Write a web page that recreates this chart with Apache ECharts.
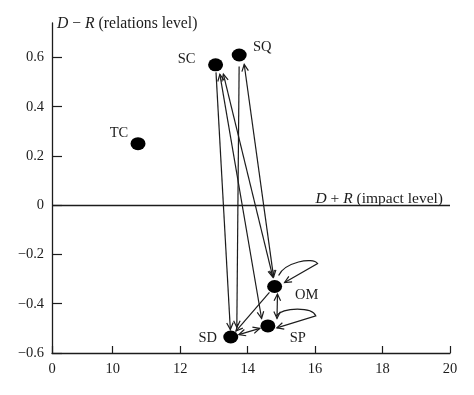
<!DOCTYPE html>
<html><head><meta charset="utf-8">
<script src="https://cdn.jsdelivr.net/npm/echarts@6/dist/echarts.min.js"></script>
<style>html,body{margin:0;padding:0;background:#fff}#c{width:474px;height:395px}</style>
</head><body><div id="c"></div>
<script>
// ---- data ----
const factors = ['SC', 'SQ', 'TC', 'OM', 'SP', 'SD'];
const impactLevel = [13.05, 13.75, 10.75, 14.8, 14.6, 13.5];      // D + R
const relationLevel = [0.57, 0.61, 0.25, -0.33, -0.49, -0.535];   // D - R
const xTickValues = [8.2, 10, 12, 14, 16, 18, 20];                // first tick is the broken-axis "0"
const yTickValues = [-0.6, -0.4, -0.2, 0, 0.2, 0.4, 0.6];
// directed relations: [from, to, arrow at 'end' | 'both']
const edges = [
  ['SC', 'SD', 'end'],
  ['SQ', 'SD', 'end'],
  ['SP', 'SC', 'both'],
  ['OM', 'SC', 'both'],
  ['OM', 'SQ', 'both'],
  ['OM', 'SD', 'end'],
  ['SD', 'SP', 'both'],
  ['OM', 'SP', 'both']
];
const selfLoops = ['OM', 'SP'];

// ---- styling ----
const FONT = '"Liberation Serif", "DejaVu Serif", serif';
const INK = '#1c1c1c';
const labelOffset = { SC: [-29, -6], SQ: [23, -8], TC: [-19, -10], OM: [32, 9], SP: [30, 12], SD: [-23, 1] };
// pixel nudges of edge endpoints [fromNudge, toNudge]
const edgeNudge = {
  'SQ>SD': [[0, 4], [6, -2]],
  'SP>SC': [[-5, 0], [3, 2]],
  'OM>SC': [[0, -2], [6, 2]],
  'OM>SQ': [[0, -2], [4, 2]],
  'OM>SP': [[3, 0], [9, 0]]
};
// self loop shapes relative to node centre (pixels)
const loopShape = {
  OM: { start: [4, -11], c1: [10, -24], c2: [38, -30], end: [43, -23], back: [10, -4] },
  SP: { start: [8, -10], c1: [16, -19], c2: [44, -19], end: [48, -10], back: [9, 2] }
};
const RX = 7.5, RY = 6.5;

function idx(n) { return factors.indexOf(n); }
function arrowHead(tip, ux, uy) {
  const L = 7.5, a = 0.45;
  const c = Math.cos(a), s = Math.sin(a);
  const r1 = [ux * c - uy * s, ux * s + uy * c];
  const r2 = [ux * c + uy * s, -ux * s + uy * c];
  return {
    type: 'polyline',
    shape: { points: [[tip[0] - L * r1[0], tip[1] - L * r1[1]], tip, [tip[0] - L * r2[0], tip[1] - L * r2[1]]] },
    style: { stroke: INK, lineWidth: 1.2, fill: null }
  };
}
function rad(ux, uy) { return 1 / Math.sqrt((ux / RX) ** 2 + (uy / RY) ** 2) + 1; }

const chart = echarts.init(document.getElementById('c'));
chart.setOption({
  animation: false,
  backgroundColor: '#fff',
  grid: { left: 52, right: 24, top: 23, bottom: 42 },
  xAxis: {
    type: 'value', min: 8.2, max: 20,
    axisLine: { show: true, onZero: false, lineStyle: { color: INK, width: 1.3 } },
    axisTick: { show: true, inside: true, length: 7, customValues: xTickValues, lineStyle: { color: INK, width: 1.2 } },
    axisLabel: { customValues: xTickValues, color: INK, fontFamily: FONT, fontSize: 14.5, margin: 9,
      formatter: v => (v < 9 ? '0' : String(v)) },
    splitLine: { show: false }
  },
  yAxis: {
    type: 'value', min: -0.6, max: 0.74,
    axisLine: { show: true, onZero: false, lineStyle: { color: INK, width: 1.3 } },
    axisTick: { show: true, inside: true, length: 10, customValues: yTickValues, lineStyle: { color: INK, width: 1.2 } },
    axisLabel: { customValues: yTickValues, color: INK, fontFamily: FONT, fontSize: 14.5, margin: 8,
      formatter: v => (v < 0 ? '\u2212' + Math.abs(v).toFixed(1) : (v === 0 ? '0' : v.toFixed(1))) },
    splitLine: { show: false }
  },
  graphic: [
    { type: 'text', left: 57, top: 16,
      style: { text: '{i|D} \u2212 {i|R} (relations level)', fill: INK, font: '15.7px ' + FONT,
        rich: { i: { fontStyle: 'italic', fontFamily: FONT, fontSize: 15.7, fill: INK } } } },
    { type: 'text', right: 31, top: 191,
      style: { text: '{i|D} + {i|R} (impact level)', fill: INK, font: '15.5px ' + FONT,
        rich: { i: { fontStyle: 'italic', fontFamily: FONT, fontSize: 15.5, fill: INK } } } }
  ],
  series: [
    {
      type: 'custom', z: 2, clip: false, silent: true,
      data: edges.map(e => [impactLevel[idx(e[0])], relationLevel[idx(e[0])]]),
      renderItem: function (params, api) {
        const e = edges[params.dataIndex];
        const i = idx(e[0]), j = idx(e[1]);
        const a = api.coord([impactLevel[i], relationLevel[i]]);
        const b = api.coord([impactLevel[j], relationLevel[j]]);
        const n = edgeNudge[e[0] + '>' + e[1]] || [[0, 0], [0, 0]];
        a[0] += n[0][0]; a[1] += n[0][1]; b[0] += n[1][0]; b[1] += n[1][1];
        const dx = b[0] - a[0], dy = b[1] - a[1], d = Math.hypot(dx, dy);
        const ux = dx / d, uy = dy / d;
        const ra = rad(ux, uy);
        const p1 = [a[0] + ux * ra, a[1] + uy * ra];
        const p2 = [b[0] - ux * ra, b[1] - uy * ra];
        const children = [{
          type: 'line', shape: { x1: p1[0], y1: p1[1], x2: p2[0], y2: p2[1] },
          style: { stroke: INK, lineWidth: 1.2 }
        }];
        children.push(arrowHead(p2, ux, uy));
        if (e[2] === 'both') children.push(arrowHead(p1, -ux, -uy));
        return { type: 'group', children: children };
      }
    },
    {
      type: 'custom', z: 2, clip: false, silent: true,
      data: selfLoops.map(n => [impactLevel[idx(n)], relationLevel[idx(n)]]),
      renderItem: function (params, api) {
        const name = selfLoops[params.dataIndex];
        const k = idx(name);
        const c = api.coord([impactLevel[k], relationLevel[k]]);
        const s = loopShape[name];
        const P = p => [c[0] + p[0], c[1] + p[1]];
        const st = P(s.start), c1 = P(s.c1), c2 = P(s.c2), en = P(s.end), bk = P(s.back);
        const path = 'M' + st + ' C' + c1 + ' ' + c2 + ' ' + en + ' L' + bk;
        const dx = bk[0] - en[0], dy = bk[1] - en[1], d = Math.hypot(dx, dy);
        return {
          type: 'group', children: [
            { type: 'path', shape: { pathData: path }, style: { stroke: INK, lineWidth: 1.2, fill: null } },
            arrowHead(bk, dx / d, dy / d)
          ]
        };
      }
    },
    {
      type: 'scatter', z: 5,
      symbol: 'circle', symbolSize: [RX * 2, RY * 2],
      itemStyle: { color: '#000', opacity: 1 },
      label: { show: true, position: 'inside', formatter: '{b}', color: INK, fontFamily: FONT, fontSize: 14.5 },
      data: factors.map((n, i) => ({ name: n, value: [impactLevel[i], relationLevel[i]], label: { offset: labelOffset[n] } })),
      markLine: {
        silent: true, symbol: 'none', animation: false,
        label: { show: false },
        lineStyle: { color: INK, width: 1.3, type: 'solid' },
        data: [{ yAxis: 0 }]
      }
    }
  ]
});
</script>
</body></html>
